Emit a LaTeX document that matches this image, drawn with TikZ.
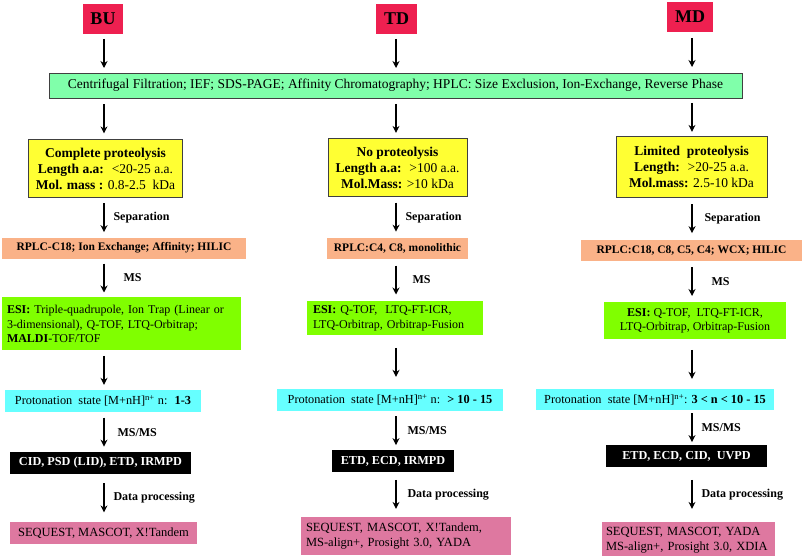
\documentclass[tikz,border=0pt]{standalone}
\usepackage{fontspec}
\setmainfont{Liberation Serif}
\usetikzlibrary{arrows.meta,positioning,calc}

\definecolor{hdrred}{RGB}{238,32,80}
\definecolor{filtgreen}{RGB}{128,255,170}
\definecolor{lenyellow}{RGB}{255,255,51}
\definecolor{lcorange}{RGB}{250,178,136}
\definecolor{mslime}{RGB}{128,255,0}
\definecolor{chgcyan}{RGB}{102,255,255}
\definecolor{softpink}{RGB}{222,120,160}

\begin{document}
\begin{tikzpicture}[->,>={Stealth[length=7pt,width=7pt]},line width=1.1pt,auto,x=1pt,y=1pt]
  \tikzstyle{box}=[rectangle,draw=none,inner xsep=7pt,inner ysep=0pt,line width=0.8pt,font=\fontsize{12.5}{14.5}\selectfont]
  \tikzstyle{hdr}=[box,fill=hdrred,minimum width=40pt,minimum height=30pt,font=\fontsize{18}{20}\selectfont\bfseries]
  \tikzstyle{filtbox}=[box,fill=filtgreen,draw=black!75,minimum width=693pt,minimum height=25pt,font=\fontsize{13.5}{15}\selectfont]
  \tikzstyle{lenbox}=[box,fill=lenyellow,draw=black!75,align=center,font=\fontsize{13.5}{16}\selectfont]
  \tikzstyle{lcbox}=[box,fill=lcorange,minimum height=21pt,font=\fontsize{11.5}{13}\selectfont\bfseries]
  \tikzstyle{msbox}=[box,fill=mslime,align=left,inner xsep=5pt,font=\fontsize{12}{14.5}\selectfont]
  \tikzstyle{chgbox}=[box,fill=chgcyan,minimum height=22pt,font=\fontsize{12.3}{14.5}\selectfont]
  \tikzstyle{fragbox}=[box,fill=black,text=white,minimum height=22pt,font=\fontsize{12.2}{14.5}\selectfont\bfseries]
  \tikzstyle{softbox}=[box,fill=softpink,align=left,inner xsep=5pt]
  \tikzstyle{lbl}=[font=\fontsize{12}{14}\selectfont\bfseries,inner xsep=9pt]
  \tikzstyle{flow}=[to path={($(\tikztostart)!.5!(\tikztotarget)$) +(0,14.5) -- +(0,-14.5) \tikztonodes}]

  \useasboundingbox (0,0) rectangle (803,-556);
  \coordinate (bux) at (104,0);
  \coordinate (tdx) at (396,0);
  \coordinate (mdx) at (692,0);

  \node[hdr] (bu0) at (103,-19) {BU};
  \node[hdr,minimum width=41pt] (td0) at (396.5,-19) {TD};
  \node[hdr,minimum width=46pt] (md0) at (690,-17) {MD};
  \node[filtbox] (filt) at (395.5,-85.5) {Centrifugal Filtration; IEF; SDS-PAGE; Affinity Chromatography; HPLC: Size Exclusion, Ion-Exchange, Reverse Phase};

  % bottom-up
  \node[lenbox,minimum width=153pt,minimum height=58pt] (bu1) [below=105pt of bu0,xshift=2.5pt] {\textbf{Complete proteolysis}\\\textbf{Length a.a:}~ <20-25 a.a.\\\textbf{Mol. mass :} 0.8-2.5~ kDa};
  \node[lcbox,minimum width=244pt] (bu2) [below=39pt of bu1,xshift=18.5pt] {RPLC-C18; Ion Exchange; Affinity; HILIC};
  \node[msbox,text width=229pt,minimum height=53pt] (bu3) [below=38pt of bu2,xshift=-2.5pt] {\textbf{ESI:} Triple-quadrupole, Ion Trap (Linear or\\3-dimensional), Q-TOF, LTQ-Orbitrap;\\\textbf{MALDI}-TOF/TOF};
  \node[chgbox,minimum width=196pt] (bu4) [below=39pt of bu3,xshift=-18.5pt] {Protonation~ state [M+nH]\textsuperscript{n+} n:~ \textbf{1-3}};
  \node[fragbox,minimum width=181pt] (bu5) [below=39pt of bu4,xshift=-2.5pt] {CID, PSD (LID), ETD, IRMPD};
  \node[softbox,align=center,minimum width=187pt,minimum height=22pt] (bu6) [below=47pt of bu5,xshift=3pt] {SEQUEST, MASCOT, X!Tandem};

  % top-down
  \node[lenbox,minimum width=139pt,minimum height=58pt] (td1) [below=104pt of td0,xshift=1pt] {\textbf{No proteolysis}\\\textbf{Length a.a:}~ >100 a.a.\\\textbf{Mol.Mass:} >10 kDa};
  \node[lcbox,minimum width=141pt] (td2) [below=40pt of td1] {RPLC:C4, C8, monolithic};
  \node[msbox,text width=164pt,inner xsep=6pt,minimum height=34pt] (td3) [below=42pt of td2,xshift=-2.5pt] {\textbf{ESI:} Q-TOF,~ LTQ-FT-ICR,\\LTQ-Orbitrap, Orbitrap-Fusion};
  \node[chgbox,minimum width=226pt] (td4) [below=53pt of td3,xshift=-5pt] {Protonation~ state [M+nH]\textsuperscript{n+} n:~ \textbf{> 10 - 15}};
  \node[fragbox,minimum width=122pt] (td5) [below=38pt of td4,xshift=3pt] {ETD, ECD, IRMPD};
  \node[softbox,text width=200pt,inner xsep=5pt,minimum height=38pt] (td6) [below=44pt of td5,xshift=13pt] {SEQUEST, MASCOT, X!Tandem,\\MS-align+, Prosight 3.0, YADA};

  % middle-down
  \node[lenbox,minimum width=151pt,minimum height=61pt] (md1) [below=104pt of md0,xshift=1.5pt] {\textbf{Limited~ proteolysis}\\\textbf{Length:}~ >20-25 a.a.\\\textbf{Mol.mass:} 2.5-10 kDa};
  \node[lcbox,minimum width=221pt] (md2) [below=41pt of md1] {RPLC:C18, C8, C5, C4; WCX; HILIC};
  \node[msbox,align=center,minimum width=182pt,minimum height=37pt] (md3) [below=41pt of md2,xshift=3.5pt] {\textbf{ESI:} Q-TOF,~ LTQ-FT-ICR,\\LTQ-Orbitrap, Orbitrap-Fusion};
  \node[chgbox,minimum width=238pt,minimum height=21pt] (md4) [below=49pt of md3,xshift=-40pt] {Protonation~ state [M+nH]\textsuperscript{n+}: \textbf{3 < n < 10 - 15}};
  \node[fragbox,minimum width=161pt] (md5) [below=34pt of md4,xshift=31.5pt] {ETD, ECD, CID,~ UVPD};
  \node[softbox,text width=165pt,inner xsep=4pt,minimum height=37pt] (md6) [below=54pt of md5,xshift=2pt] {SEQUEST, MASCOT, YADA\\MS-align+, Prosight 3.0, XDIA};

  \path
  (bu0.south -| bux) edge[flow] (filt.north -| bux)
  (td0.south -| tdx) edge[flow] (filt.north -| tdx)
  (md0.south -| mdx) edge[flow] (filt.north -| mdx)
  (filt.south -| bux) edge[flow] (bu1.north -| bux)
  (filt.south -| tdx) edge[flow] (td1.north -| tdx)
  (filt.south -| mdx) edge[flow] (md1.north -| mdx);

  \path
  (bu1.south -| bux) edge[flow] node[lbl] {Separation} (bu2.north -| bux)
  (bu2.south -| bux) edge[flow] node[lbl,xshift=10pt] {MS} (bu3.north -| bux)
  (bu3.south -| bux) edge[flow] (bu4.north -| bux)
  (bu4.south -| bux) edge[flow] node[lbl,xshift=4pt] {MS/MS} (bu5.north -| bux)
  (bu5.south -| bux) edge[flow] node[lbl] {Data processing} (bu6.north -| bux);

  \path
  (td1.south -| tdx) edge[flow] node[lbl] {Separation} (td2.north -| tdx)
  (td2.south -| tdx) edge[flow] node[lbl,xshift=7pt] {MS} (td3.north -| tdx)
  (td3.south -| tdx) edge[flow] (td4.north -| tdx)
  (td4.south -| tdx) edge[flow] node[lbl,xshift=2pt] {MS/MS} (td5.north -| tdx)
  (td5.south -| tdx) edge[flow] node[lbl,xshift=2pt] {Data processing} (td6.north -| tdx);

  \path
  (md1.south -| mdx) edge[flow] node[lbl,xshift=3pt] {Separation} (md2.north -| mdx)
  (md2.south -| mdx) edge[flow] node[lbl,xshift=10pt] {MS} (md3.north -| mdx)
  (md3.south -| mdx) edge[flow] (md4.north -| mdx)
  (md4.south -| mdx) edge[flow] node[lbl] {MS/MS} (md5.north -| mdx)
  (md5.south -| mdx) edge[flow] node[lbl] {Data processing} (md6.north -| mdx);
\end{tikzpicture}
\end{document}
